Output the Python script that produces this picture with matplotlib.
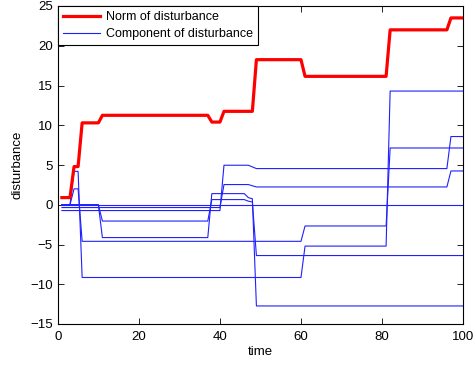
import matplotlib
matplotlib.use("Agg")
import matplotlib.pyplot as plt

plt.rcParams['font.family'] = ['Liberation Sans', 'DejaVu Sans']

# norm of disturbance (breakpoints)
t_norm = [1, 3, 4, 5, 6, 10, 11, 37, 38, 40, 41, 48, 49, 60, 61, 81, 82, 96, 97, 100]
norm = [0.9, 0.9, 4.8, 4.8, 10.3, 10.3, 11.25, 11.25, 10.4, 10.4, 11.75, 11.75,
        18.25, 18.25, 16.15, 16.15, 22.0, 22.0, 23.5, 23.5]

# components of disturbance
t_c12 = [1, 3, 4, 5, 6, 60, 61, 81, 82, 100]
c1 = [0, 0, 4.2, 4.2, -9.15, -9.15, -5.2, -5.2, 14.3, 14.3]
c2 = [0, 0, 2.0, 2.0, -4.6, -4.6, -2.67, -2.67, 7.14, 7.14]

t_c34 = [1, 10, 11, 37, 38, 46, 47, 48, 49, 100]
c3 = [0, 0, -4.13, -4.13, 1.4, 1.4, 0.9, 0.75, -12.73, -12.73]
c4 = [0, 0, -2.05, -2.05, 0.65, 0.65, 0.45, 0.35, -6.39, -6.39]

t_c56 = [1, 40, 41, 47, 49, 96, 97, 100]
c5 = [-0.73, -0.73, 4.97, 4.97, 4.55, 4.55, 8.58, 8.58]
c6 = [-0.35, -0.35, 2.54, 2.54, 2.24, 2.24, 4.25, 4.25]

t_c7 = [1, 100]
c7 = [0, 0]

fig = plt.figure(figsize=(4.74, 3.75), dpi=100)
ax = fig.add_axes([0.122, 0.136, 0.855, 0.848])

ax.plot(t_norm, norm, color='#ff0000', lw=2.3, label='Norm of disturbance', zorder=3)
comps = [(t_c12, c1), (t_c12, c2), (t_c34, c3), (t_c34, c4),
         (t_c56, c5), (t_c56, c6), (t_c7, c7)]
for i, (tt, cc) in enumerate(comps):
    ax.plot(tt, cc, color='#2020ff', lw=0.8,
            label='Component of disturbance' if i == 0 else None)

ax.set_xlim(0, 100)
ax.set_ylim(-15, 25)
ax.set_xticks(range(0, 101, 20))
ax.set_yticks(range(-15, 26, 5))
ax.tick_params(direction='in', top=True, right=True, labelsize=9.5, length=4, width=0.6)
ax.tick_params(axis='x', pad=5)
for s in ax.spines.values():
    s.set_linewidth(0.8)

ax.set_xlabel('time', fontsize=9.5, labelpad=2)
ax.set_ylabel('disturbance', fontsize=9.5, labelpad=5)

leg = ax.legend(loc='upper left', borderaxespad=0, fancybox=False, fontsize=9,
                edgecolor='black', framealpha=1, handlelength=3.0,
                handletextpad=0.45, labelspacing=0.4, borderpad=0.4)
leg.get_frame().set_linewidth(0.8)

fig.savefig('out.png', dpi=100)
